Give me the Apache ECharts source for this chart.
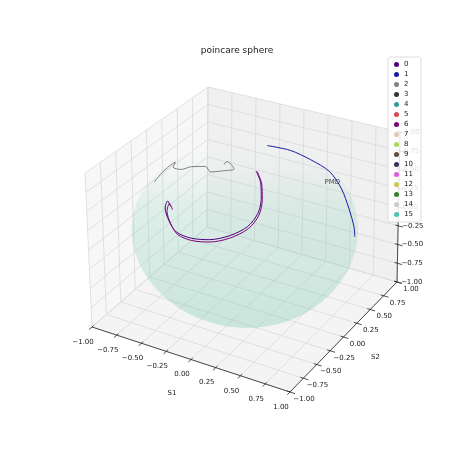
<!DOCTYPE html>
<html>
<head>
<meta charset="utf-8">
<script src="https://cdn.jsdelivr.net/npm/echarts@6/dist/echarts.min.js"></script>
<style>html,body{margin:0;padding:0;background:#fff}#main{width:474px;height:467px}</style>
</head>
<body>
<div id="main"></div>
<script>
// stokes trajectories [S1, S2, S3]
var path0 = [[0.21,-0.17,0.96],[0.32,-0.28,0.91],[0.40,-0.41,0.82],[0.44,-0.54,0.72],[0.41,-0.67,0.62],[0.30,-0.79,0.54],[0.14,-0.87,0.48],[-0.03,-0.89,0.45],[-0.19,-0.87,0.46],[-0.31,-0.79,0.52],[-0.39,-0.71,0.60],[-0.40,-0.65,0.65],[-0.34,-0.70,0.63]];
var path6 = [[0.22,-0.17,0.96],[0.33,-0.28,0.90],[0.41,-0.41,0.81],[0.45,-0.54,0.70],[0.42,-0.67,0.60],[0.31,-0.80,0.52],[0.15,-0.88,0.46],[-0.02,-0.90,0.43],[-0.17,-0.88,0.44],[-0.28,-0.81,0.50],[-0.36,-0.73,0.58],[-0.37,-0.67,0.64],[-0.31,-0.72,0.61]];
var path1 = [[0.04,0.31,0.95],[0.22,0.40,0.89],[0.41,0.43,0.81],[0.56,0.51,0.65],[0.73,0.43,0.53],[0.86,0.34,0.37],[0.94,0.29,0.20],[0.95,0.29,0.07]];
var path2 = [[-0.72,-0.34,0.60],[-0.69,-0.24,0.69],[-0.66,-0.14,0.74],[-0.63,-0.13,0.77],[-0.60,-0.22,0.77],[-0.47,-0.30,0.83],[-0.38,-0.27,0.88],[-0.24,-0.27,0.93],[-0.15,-0.34,0.93],[-0.06,-0.30,0.95],[0.03,-0.24,0.97],[-0.03,-0.19,0.98],[-0.09,-0.16,0.98],[-0.09,-0.21,0.97]];
var pmdPoint = [0.67,0.37,0.64];

var seriesNames = ['0','1','2','3','4','5','6','7','8','9','10','11','12','13','14','15'];
var seriesColors = ['#4b0082','#1a1aa6','#808080','#000000','#008080','#c81e1e','#800080','#d9b8a8','#9acd32','#3b1f0f','#000033','#d633d6','#bcbc22','#006400','#c0c0c0','#20b2aa'];
var tickValues = [-1,-0.75,-0.5,-0.25,0,0.25,0.5,0.75,1];
var tickLabels = ['\u22121.00','\u22120.75','\u22120.50','\u22120.25','0.00','0.25','0.50','0.75','1.00'];

// screen position of the 8 box corners, index [x][y][z]
var corners = [[[[92,327],[85,173]],[[207,227],[208,87]]],[[[290,392],[288,228]],[[397,282],[400,132]]]];
function proj(p){
    var u=(p[0]+1)/2, v=(p[1]+1)/2, w=(p[2]+1)/2;
    var r=[0,0];
    for(var i=0;i<2;i++)for(var j=0;j<2;j++)for(var k=0;k<2;k++){
        var f=(i?u:1-u)*(j?v:1-v)*(k?w:1-w);
        r[0]+=f*corners[i][j][k][0]; r[1]+=f*corners[i][j][k][1];
    }
    return r;
}

var prims = [];
// panes
prims.push({t:'poly',pts:[[-1,-1,-1],[-1,1,-1],[-1,1,1],[-1,-1,1]],fill:'rgba(242,242,242,0.6)'});
prims.push({t:'poly',pts:[[-1,1,-1],[1,1,-1],[1,1,1],[-1,1,1]],fill:'rgba(230,230,230,0.6)'});
prims.push({t:'poly',pts:[[-1,-1,-1],[1,-1,-1],[1,1,-1],[-1,1,-1]],fill:'rgba(236,236,236,0.6)'});
var gc='#d9d9d9';
tickValues.forEach(function(t){
    prims.push({t:'line',a:[t,-1,-1],b:[t,1,-1],c:gc});
    prims.push({t:'line',a:[-1,t,-1],b:[1,t,-1],c:gc});
    prims.push({t:'line',a:[-1,t,-1],b:[-1,t,1],c:gc});
    prims.push({t:'line',a:[-1,-1,t],b:[-1,1,t],c:gc});
    prims.push({t:'line',a:[t,1,-1],b:[t,1,1],c:gc});
    prims.push({t:'line',a:[-1,1,t],b:[1,1,t],c:gc});
});
// axes
prims.push({t:'line',a:[-1,-1,-1],b:[1,-1,-1],c:'#222'});
prims.push({t:'line',a:[1,-1,-1],b:[1,1,-1],c:'#222'});
prims.push({t:'line',a:[1,1,-1],b:[1,1,1],c:'#222'});
tickValues.forEach(function(t,i){
    prims.push({t:'line',a:[t,-0.97,-1],b:[t,-1.05,-1],c:'#222'});
    prims.push({t:'line',a:[0.97,t,-1],b:[1.05,t,-1],c:'#222'});
    prims.push({t:'line',a:[0.97,1,t],b:[1.05,1,t],c:'#222'});
    prims.push({t:'text',p:[t,-1,-1],dx:-9,dy:15,s:tickLabels[i],al:'center'});
    prims.push({t:'text',p:[1,t,-1],dx:14,dy:7,s:tickLabels[i],al:'center'});
    prims.push({t:'text',p:[1,1,t],dx:4,dy:0,s:tickLabels[i],al:'left'});
});
prims.push({t:'text',p:[0,-1,-1],dx:-19,dy:34,s:'S1',al:'center'});
prims.push({t:'text',p:[1,0,-1],dx:32,dy:20,s:'S2',al:'center'});

// sphere outline as convex hull of projected samples
var sp=[];
for(var a=0;a<=36;a++)for(var b=0;b<=72;b++){
    var th=Math.PI*a/36, ph=2*Math.PI*b/72;
    sp.push(proj([Math.sin(th)*Math.cos(ph),Math.sin(th)*Math.sin(ph),Math.cos(th)]));
}
sp.sort(function(p,q){return p[0]-q[0]||p[1]-q[1];});
function cross(o,a,b){return (a[0]-o[0])*(b[1]-o[1])-(a[1]-o[1])*(b[0]-o[0]);}
var lo=[],hi=[];
sp.forEach(function(p){while(lo.length>=2&&cross(lo[lo.length-2],lo[lo.length-1],p)<=0)lo.pop();lo.push(p);});
sp.slice().reverse().forEach(function(p){while(hi.length>=2&&cross(hi[hi.length-2],hi[hi.length-1],p)<=0)hi.pop();hi.push(p);});
var hull=lo.slice(0,-1).concat(hi.slice(0,-1));

function renderFrame(params,api){
    var d=prims[params.dataIndex];
    if(d.t==='poly'){
        return {type:'polygon',shape:{points:d.pts.map(function(p){return api.coord(proj(p));})},style:{fill:d.fill}};
    }
    if(d.t==='line'){
        var A=api.coord(proj(d.a)),B=api.coord(proj(d.b));
        return {type:'line',shape:{x1:A[0],y1:A[1],x2:B[0],y2:B[1]},style:{stroke:d.c,lineWidth:0.8}};
    }
    var P=api.coord(proj(d.p));
    return {type:'text',x:P[0]+d.dx,y:P[1]+d.dy,style:{text:d.s,fill:'#222',font:'7px "DejaVu Sans"',align:d.al,verticalAlign:'middle'}};
}

var paths = {0:path0,1:path1,2:path2,6:path6};
var series = [
    {type:'custom',silent:true,clip:false,data:prims.map(function(_,i){return [i];}),renderItem:renderFrame,z:1},
    {type:'custom',silent:true,clip:false,data:[[0]],z:2,
     renderItem:function(params,api){
        return {type:'polygon',shape:{points:hull.map(function(p){return api.coord(p);})},
            style:{fill:{type:'linear',x:0,y:0,x2:0,y2:1,colorStops:[
                {offset:0,color:'rgba(130,205,180,0)'},
                {offset:0.15,color:'rgba(130,205,180,0.03)'},
                {offset:0.35,color:'rgba(130,205,180,0.2)'},
                {offset:1,color:'rgba(130,205,180,0.38)'}]}}};
     }}
];
seriesNames.forEach(function(n,i){
    var pts = paths[i];
    if(pts){
        series.push({name:n,type:'line',z:3,showSymbol:false,data:pts.map(proj),smooth:0.3,
            lineStyle:{color:seriesColors[i],width:1},itemStyle:{color:seriesColors[i]}});
    } else {
        series.push({name:n,type:'scatter',data:[],itemStyle:{color:seriesColors[i]}});
    }
});
series.push({type:'scatter',z:4,symbolSize:0,silent:true,data:[proj(pmdPoint)],
    label:{show:true,formatter:'PMD',position:'inside',color:'#222',fontSize:7,fontFamily:'DejaVu Sans'}});

var myChart = echarts.init(document.getElementById('main'));
myChart.setOption({
    animation:false,
    title:{text:'poincare sphere',left:'center',top:41,textStyle:{fontSize:9,fontWeight:'normal',color:'#222',fontFamily:'DejaVu Sans'}},
    grid:{left:0,right:0,top:0,bottom:0},
    xAxis:{type:'value',min:0,max:474,show:false},
    yAxis:{type:'value',min:0,max:467,inverse:true,show:false},
    legend:{orient:'vertical',left:388,top:57,icon:'circle',itemWidth:5,itemHeight:5,itemGap:3,
        padding:[4,8,4,6],backgroundColor:'rgba(255,255,255,0.85)',borderColor:'#ddd',borderWidth:1,borderRadius:2,
        textStyle:{fontSize:7,lineHeight:6,color:'#222',fontFamily:'DejaVu Sans'},
        data:seriesNames},
    series:series
});
</script>
</body>
</html>
